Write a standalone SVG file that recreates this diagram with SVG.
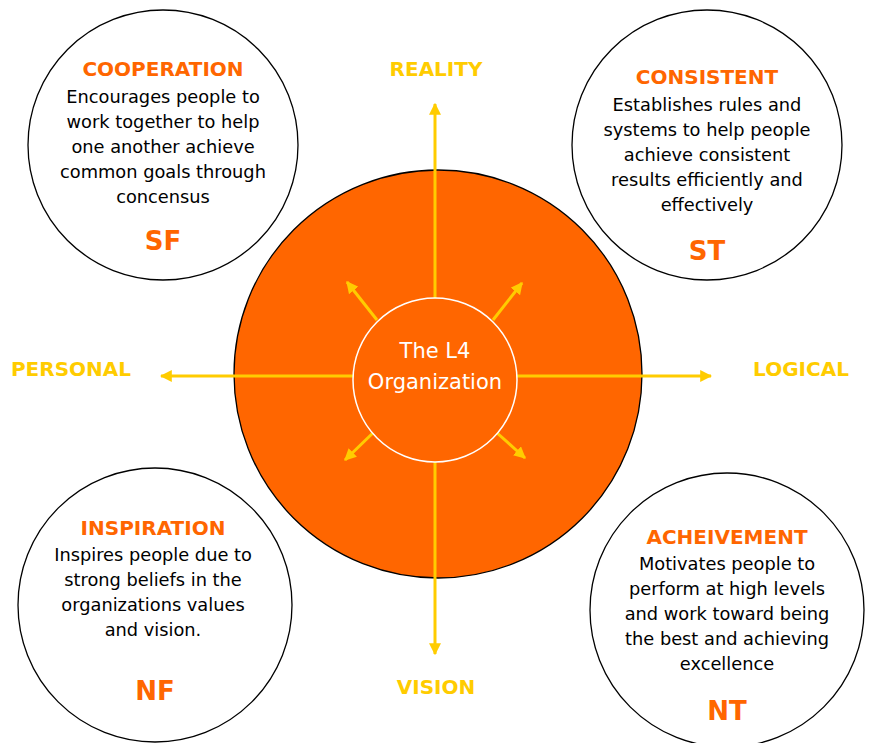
<svg xmlns="http://www.w3.org/2000/svg" width="872" height="743" viewBox="0 0 872 743">
<defs>
<marker id="ah" viewBox="0 0 10 10" refX="9" refY="5" markerWidth="4" markerHeight="4" orient="auto"><path d="M0,0 L10,5 L0,10 z" fill="#FFCC00"/></marker>
<style>
.c{fill:#fff;stroke:#000;stroke-width:1.3}
.t{font-family:"DejaVu Sans",Verdana,sans-serif;font-size:17.8px;fill:#000;text-anchor:middle}
.h{font-family:"DejaVu Sans",Verdana,sans-serif;font-size:20px;font-weight:bold;fill:#FF6600;text-anchor:middle}
.k{font-family:"DejaVu Sans",Verdana,sans-serif;font-size:26px;font-weight:bold;fill:#FF6600;text-anchor:middle}
.a{font-family:"DejaVu Sans",Verdana,sans-serif;font-size:20px;font-weight:bold;fill:#FFCC00;text-anchor:middle}
.l{stroke:#FFCC00;stroke-width:3;fill:none;marker-end:url(#ah)}
</style>
</defs>
<rect width="872" height="743" fill="#fff"/>
<g id="main"><circle cx="438" cy="374" r="204" fill="#FF6600" stroke="#000" stroke-width="1.3"/></g>
<g id="connectors">
<line class="l" x1="435" y1="298" x2="435" y2="104"/>
<line class="l" x1="435" y1="462" x2="435" y2="654"/>
<line class="l" x1="353" y1="376" x2="161" y2="376"/>
<line class="l" x1="517" y1="376" x2="711" y2="376"/>
<line class="l" x1="377" y1="320" x2="347" y2="282"/>
<line class="l" x1="493" y1="320" x2="522" y2="283"/>
<line class="l" x1="376" y1="430" x2="345" y2="460"/>
<line class="l" x1="496" y1="432" x2="525" y2="458"/>
</g>
<g id="center"><circle cx="435" cy="380" r="82" fill="#FF6600" stroke="#fff" stroke-width="1.5"/>
<text class="t" x="435" y="358" style="fill:#fff;font-size:21px">The L4</text>
<text class="t" x="435" y="389" style="fill:#fff;font-size:21px">Organization</text></g>
<g id="labels">
<text class="a" x="436" y="76">REALITY</text>
<text class="a" x="436" y="694">VISION</text>
<text class="a" x="71" y="376">PERSONAL</text>
<text class="a" x="801" y="376">LOGICAL</text>
</g>
<g id="sf"><circle class="c" cx="163" cy="145" r="135"/>
<text class="h" x="163" y="76">COOPERATION</text>
<text class="t" x="163" y="103">Encourages people to</text>
<text class="t" x="163" y="128">work together to help</text>
<text class="t" x="163" y="153">one another achieve</text>
<text class="t" x="163" y="178">common goals through</text>
<text class="t" x="163" y="203">concensus</text>
<text class="k" x="163" y="250">SF</text></g>
<g id="st"><circle class="c" cx="707" cy="145" r="135"/>
<text class="h" x="707" y="84">CONSISTENT</text>
<text class="t" x="707" y="111">Establishes rules and</text>
<text class="t" x="707" y="136">systems to help people</text>
<text class="t" x="707" y="161">achieve consistent</text>
<text class="t" x="707" y="186">results efficiently and</text>
<text class="t" x="707" y="211">effectively</text>
<text class="k" x="707" y="260">ST</text></g>
<g id="nf"><circle class="c" cx="155" cy="605" r="137"/>
<text class="h" x="153" y="535">INSPIRATION</text>
<text class="t" x="153" y="561">Inspires people due to</text>
<text class="t" x="153" y="586">strong beliefs in the</text>
<text class="t" x="153" y="611">organizations values</text>
<text class="t" x="153" y="636">and vision.</text>
<text class="k" x="155" y="700">NF</text></g>
<g id="nt"><circle class="c" cx="727" cy="610" r="137"/>
<text class="h" x="727" y="544">ACHEIVEMENT</text>
<text class="t" x="727" y="570">Motivates people to</text>
<text class="t" x="727" y="595">perform at high levels</text>
<text class="t" x="727" y="620">and work toward being</text>
<text class="t" x="727" y="645">the best and achieving</text>
<text class="t" x="727" y="670">excellence</text>
<text class="k" x="727" y="720">NT</text></g>
</svg>
